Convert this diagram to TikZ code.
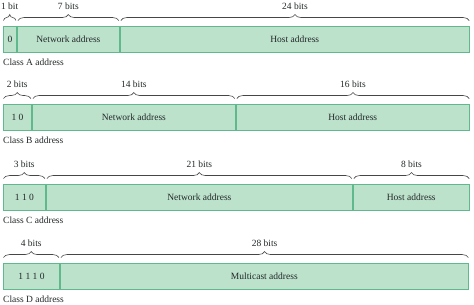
\documentclass[tikz,border=0pt]{standalone}
\usepackage{fontspec}
\setmainfont{Liberation Serif}
\definecolor{fieldfill}{RGB}{188, 226, 204}
\definecolor{fieldline}{RGB}{95, 185, 140}
\definecolor{bracegray}{RGB}{70, 70, 70}
\definecolor{textdark}{RGB}{35, 40, 40}
\usetikzlibrary{positioning, calc, decorations.pathreplacing}

\begin{document}
\begin{tikzpicture}[
  x=1pt, y=1pt,
  every node/.style={text=textdark, font=\fontsize{9.5}{11}\selectfont},
  field/.style={draw=fieldline, fill=fieldfill, line width=0.9pt, minimum height=26pt, inner sep=0pt, anchor=west},
  bitbrace/.style={decorate, decoration={brace, amplitude=6pt}, draw=bracegray, line width=0.6pt},
  bitlabel/.style={midway, above=7pt},
  classlabel/.style={anchor=north west, inner xsep=0pt}
]
  \useasboundingbox (0,0) rectangle (474,305);

  % Class A
  \node[field, minimum width=13pt] (aPrefix) at (3,266) {0};
  \node[field, minimum width=102pt] (aNet) at (aPrefix.east) {Network address};
  \node[field, minimum width=349pt] (aHost) at (aNet.east) {Host address};
  \draw[bitbrace] ([xshift=0.5pt,yshift=5pt]aPrefix.north west) -- ([xshift=-1pt,yshift=5pt]aPrefix.north east) node[bitlabel] (aPrefixBits) {1 bit};
  \draw[bitbrace] ([xshift=1pt,yshift=5pt]aNet.north west) -- ([xshift=-1pt,yshift=5pt]aNet.north east) node[bitlabel] (aNetBits) {7 bits};
  \draw[bitbrace] ([xshift=1pt,yshift=5pt]aHost.north west) -- ([xshift=-0.5pt,yshift=5pt]aHost.north east) node[bitlabel] (aHostBits) {24 bits};
  \node[classlabel] (aName) at ([yshift=-3pt]aPrefix.south west) {Class A address};

  % Class B
  \node[field, minimum width=28pt] (bPrefix) at (3,188) {1 0};
  \node[field, minimum width=203pt] (bNet) at (bPrefix.east) {Network address};
  \node[field, minimum width=233pt] (bHost) at (bNet.east) {Host address};
  \draw[bitbrace] ([xshift=0.5pt,yshift=5pt]bPrefix.north west) -- ([xshift=-1pt,yshift=5pt]bPrefix.north east) node[bitlabel] (bPrefixBits) {2 bits};
  \draw[bitbrace] ([xshift=1pt,yshift=5pt]bNet.north west) -- ([xshift=-1pt,yshift=5pt]bNet.north east) node[bitlabel] (bNetBits) {14 bits};
  \draw[bitbrace] ([xshift=1pt,yshift=5pt]bHost.north west) -- ([xshift=-0.5pt,yshift=5pt]bHost.north east) node[bitlabel] (bHostBits) {16 bits};
  \node[classlabel] (bName) at ([yshift=-3pt]bPrefix.south west) {Class B address};

  % Class C
  \node[field, minimum width=42pt] (cPrefix) at (3,108) {1 1 0};
  \node[field, minimum width=306pt] (cNet) at (cPrefix.east) {Network address};
  \node[field, minimum width=116pt] (cHost) at (cNet.east) {Host address};
  \draw[bitbrace] ([xshift=0.5pt,yshift=5pt]cPrefix.north west) -- ([xshift=-1pt,yshift=5pt]cPrefix.north east) node[bitlabel] (cPrefixBits) {3 bits};
  \draw[bitbrace] ([xshift=1pt,yshift=5pt]cNet.north west) -- ([xshift=-1pt,yshift=5pt]cNet.north east) node[bitlabel] (cNetBits) {21 bits};
  \draw[bitbrace] ([xshift=1pt,yshift=5pt]cHost.north west) -- ([xshift=-0.5pt,yshift=5pt]cHost.north east) node[bitlabel] (cHostBits) {8 bits};
  \node[classlabel] (cName) at ([yshift=-3pt]cPrefix.south west) {Class C address};

  % Class D
  \node[field, minimum width=56pt] (dPrefix) at (3,29) {1 1 1 0};
  \node[field, minimum width=408pt] (dMulti) at (dPrefix.east) {Multicast address};
  \draw[bitbrace] ([xshift=0.5pt,yshift=5pt]dPrefix.north west) -- ([xshift=-1pt,yshift=5pt]dPrefix.north east) node[bitlabel] (dPrefixBits) {4 bits};
  \draw[bitbrace] ([xshift=1pt,yshift=5pt]dMulti.north west) -- ([xshift=-0.5pt,yshift=5pt]dMulti.north east) node[bitlabel] (dMultiBits) {28 bits};
  \node[classlabel] (dName) at ([yshift=-3pt]dPrefix.south west) {Class D address};
\end{tikzpicture}
\end{document}
